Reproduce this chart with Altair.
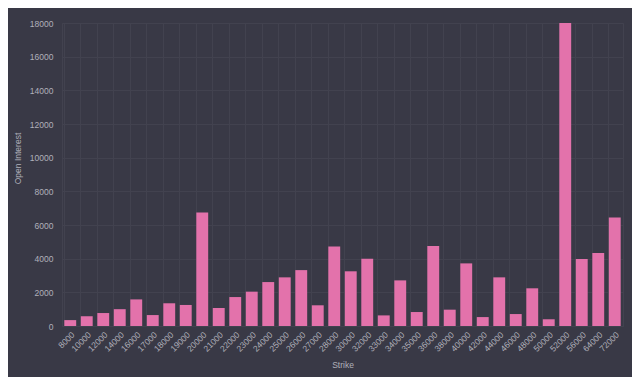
import altair as alt
import pandas as pd

strikes = ["8000", "10000", "12000", "14000", "16000", "17000", "18000", "19000",
           "20000", "21000", "22000", "23000", "24000", "25000", "26000", "27000",
           "28000", "30000", "32000", "33000", "34000", "35000", "36000", "38000",
           "40000", "42000", "44000", "46000", "48000", "50000", "52000", "56000",
           "64000", "72000"]
open_interest = [350, 580, 770, 1000, 1580, 650, 1350, 1250,
                 6750, 1070, 1720, 2040, 2610, 2890, 3320, 1230,
                 4730, 3250, 3990, 630, 2710, 830, 4750, 970,
                 3720, 530, 2890, 710, 2240, 400, 18000, 3980,
                 4330, 6450]
y_ticks = [0, 2000, 4000, 6000, 8000, 10000, 12000, 14000, 16000, 18000]

df = pd.DataFrame({"Strike": strikes, "Open Interest": open_interest})

BG = "#393946"
GRID = "#42424f"
TXT = "#b0b0ba"
FONT = "Liberation Sans"

chart = alt.Chart(df).mark_bar(color="#e372ab").encode(
    x=alt.X("Strike:N", sort=None,
            scale=alt.Scale(paddingInner=0.28, paddingOuter=0.14),
            axis=alt.Axis(title="Strike", labelAngle=-45, labelColor=TXT,
                          labelFont=FONT, labelFontSize=8.5, labelPadding=4,
                          ticks=False, grid=True, gridColor=GRID, bandPosition=0,
                          domainColor=GRID, titleColor=TXT, titleFont=FONT,
                          titleFontSize=8.5, titleFontWeight="normal",
                          titleY=38, titleBaseline="middle", labelOverlap=False)),
    y=alt.Y("Open Interest:Q",
            scale=alt.Scale(domain=[0, 18000], nice=False),
            axis=alt.Axis(title="Open Interest", values=y_ticks, format="d",
                          labelColor=TXT,
                          labelFont=FONT, labelFontSize=8.5, labelPadding=9,
                          ticks=False, grid=True, gridColor=GRID,
                          domainColor=GRID, titleColor=TXT, titleFont=FONT,
                          titleFontSize=8.5, titleFontWeight="normal",
                          titleX=-45, titleY=135, titleBaseline="middle",
                          titleAlign="center")),
).properties(
    width=561, height=303,
    background=BG,
    padding={"left": 54, "top": 15, "right": 9, "bottom": 51},
    autosize=alt.AutoSizeParams(type="none"),
).configure_view(stroke=GRID)

chart.save("out.html", embed_options={"renderer": "svg", "actions": False})
